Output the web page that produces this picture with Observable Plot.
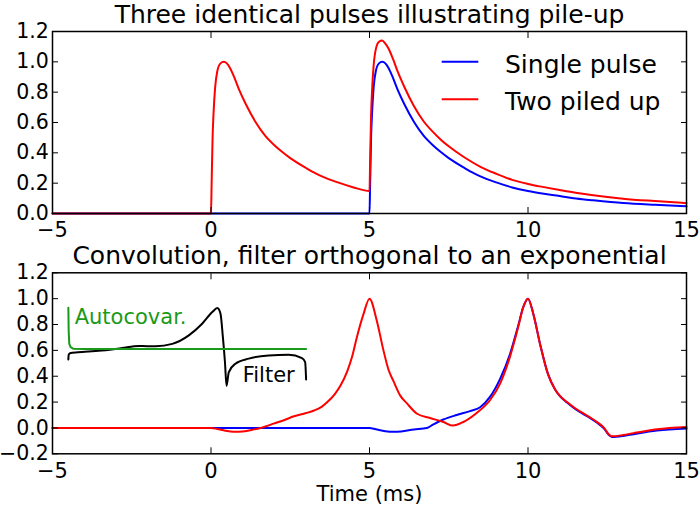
<!DOCTYPE html>
<html>
<head>
<meta charset="utf-8">
<script src="https://cdn.jsdelivr.net/npm/d3@7"></script>
<script src="https://cdn.jsdelivr.net/npm/@observablehq/plot@0.6"></script>
<style>
  body { margin: 0; background: #fff; }
  #wrap { position: relative; width: 700px; height: 505px; overflow: hidden; background: #fff; }
  #wrap svg { position: absolute; left: 0; overflow: visible; }
</style>
</head>
<body>
<div id="wrap"></div>
<script>
// ---------- data ----------
const titles = ["Three identical pulses illustrating pile-up", "Convolution, filter orthogonal to an exponential"];
const legendLabels = ["Single pulse", "Two piled up"];
const xLabel = "Time (ms)";
const insetLabels = ["Autocovar.", "Filter"];
const insetLabelX = [-4.3, 1.0];
const insetLabelY = [0.806, 0.355];

const xTicks = [-5, 0, 5, 10, 15];
const yTicksTop = [0, 0.2, 0.4, 0.6, 0.8, 1.0, 1.2];
const yTicksBot = [-0.2, 0, 0.2, 0.4, 0.6, 0.8, 1.0, 1.2];

// top panel: single pulse (blue)
const blueTopT = [-5, 5.0, 5.02, 5.05, 5.08, 5.13, 5.2, 5.3, 5.4, 5.5, 5.6, 5.75, 5.9, 6.1, 6.4, 6.7, 7.0, 7.25, 7.5, 8.0, 8.3, 8.5, 9.0, 9.5, 10.0, 10.5, 11.0, 11.44, 12.0, 13.0, 14.0, 15.0];
const blueTopV = [0, 0, 0.2, 0.5, 0.66, 0.83, 0.94, 0.99, 1.0, 0.99, 0.96, 0.89, 0.81, 0.72, 0.605, 0.515, 0.45, 0.405, 0.365, 0.30, 0.265, 0.245, 0.205, 0.172, 0.148, 0.13, 0.115, 0.10, 0.088, 0.069, 0.057, 0.047];

// top panel: two piled up (red)
const redTopT = [-5, 0, 0.02, 0.05, 0.08, 0.13, 0.2, 0.3, 0.4, 0.5, 0.6, 0.75, 0.9, 1.1, 1.4, 1.7, 2.0, 2.25, 2.5, 3.0, 3.3, 3.5, 4.0, 4.5, 5.0, 5.02, 5.05, 5.08, 5.13, 5.2, 5.3, 5.4, 5.5, 5.6, 5.75, 5.9, 6.1, 6.4, 6.7, 7.0, 7.25, 7.5, 8.0, 8.5, 9.0, 9.5, 10.0, 10.5, 11.0, 11.5, 12.0, 13.0, 14.0, 15.0];
const redTopV = [0, 0, 0.2, 0.5, 0.66, 0.83, 0.94, 0.99, 1.0, 0.99, 0.96, 0.89, 0.81, 0.72, 0.605, 0.515, 0.45, 0.405, 0.365, 0.30, 0.265, 0.245, 0.205, 0.172, 0.148, 0.348, 0.647, 0.806, 0.975, 1.084, 1.132, 1.14, 1.12, 1.088, 1.014, 0.93, 0.834, 0.709, 0.61, 0.538, 0.487, 0.443, 0.369, 0.308, 0.262, 0.222, 0.195, 0.174, 0.155, 0.137, 0.122, 0.098, 0.082, 0.068];

// bottom panel: convolution of single pulse (blue)
const blueBotT = [-5, 5.0, 5.2, 5.5, 5.76, 6.0, 6.4, 6.81, 7.0, 7.33, 7.75, 8.17, 8.49, 8.8, 9.12, 9.43, 9.69, 9.85, 10.0, 10.17, 10.38, 10.64, 10.85, 11.0, 11.23, 11.5, 11.76, 12.0, 12.18, 12.4, 12.55, 12.65, 13.0, 13.33, 14.07, 15.0];
const blueBotV = [0, 0, -0.01, -0.025, -0.03, -0.027, -0.012, 0.0, 0.025, 0.065, 0.10, 0.13, 0.16, 0.24, 0.38, 0.57, 0.79, 0.935, 1.0, 0.88, 0.65, 0.41, 0.30, 0.248, 0.197, 0.145, 0.105, 0.07, 0.04, -0.005, -0.055, -0.07, -0.062, -0.048, -0.02, -0.005];

// bottom panel: convolution of piled-up signal (red)
const redBotT = [-5, 0, 0.2, 0.45, 0.72, 1.0, 1.3, 1.57, 2.0, 2.3, 2.62, 3.0, 3.25, 3.5, 3.67, 3.9, 4.09, 4.3, 4.45, 4.6, 4.81, 5.0, 5.23, 5.44, 5.6, 5.76, 5.97, 6.18, 6.5, 6.91, 7.33, 7.63, 7.96, 8.38, 8.8, 9.12, 9.43, 9.69, 9.85, 10.0, 10.17, 10.38, 10.64, 10.85, 11.0, 11.23, 11.5, 11.76, 12.0, 12.18, 12.4, 12.55, 12.65, 13.0, 13.33, 14.07, 15.0];
const redBotV = [0, 0, -0.008, -0.022, -0.03, -0.027, -0.015, 0.0, 0.035, 0.06, 0.09, 0.115, 0.135, 0.165, 0.20, 0.26, 0.33, 0.44, 0.55, 0.70, 0.88, 1.0, 0.83, 0.60, 0.45, 0.36, 0.25, 0.19, 0.11, 0.077, 0.046, 0.018, 0.046, 0.116, 0.214, 0.343, 0.55, 0.78, 0.934, 1.0, 0.88, 0.65, 0.41, 0.30, 0.25, 0.20, 0.15, 0.11, 0.075, 0.045, 0.0, -0.05, -0.065, -0.055, -0.04, -0.01, 0.008];

// inset: autocovariance (green)
const autoT = [-4.5, -4.49, -4.47, -4.43, -4.35, -4.0, 3.0];
const autoV = [0.93, 0.75, 0.65, 0.625, 0.613, 0.61, 0.61];

// inset: filter (black)
const filterT = [-4.5, -4.49, -4.45, -4.2, -3.85, -3.32, -2.8, -2.27, -1.75, -1.22, -0.7, -0.28, 0.04, 0.2, 0.3, 0.37, 0.44, 0.49, 0.56, 0.77, 1.19, 1.82, 2.45, 2.87, 2.97, 3.0];
const filterV = [0.53, 0.565, 0.578, 0.585, 0.592, 0.60, 0.618, 0.633, 0.632, 0.65, 0.716, 0.806, 0.896, 0.927, 0.883, 0.716, 0.51, 0.325, 0.43, 0.497, 0.536, 0.561, 0.566, 0.54, 0.51, 0.375];

// ---------- helpers ----------
const rows = (T, V) => T.map((t, i) => ({t, v: V[i]}));
const fmtX = d3.format("d");
const fmtY = d3.format(".1f");
const FONT = "DejaVu Sans";
const W = 700;

function axes(yTicks) {
  return [
    Plot.axisX({ticks: xTicks, anchor: "bottom", tickSize: -6, tickPadding: 15, tickFormat: fmtX, label: null, fontSize: 21}),
    Plot.axisX({ticks: xTicks, anchor: "top", tickSize: -6, tickFormat: () => "", label: null}),
    Plot.axisY({ticks: yTicks, anchor: "left", tickSize: -6, tickPadding: 9.6, tickFormat: fmtY, label: null, fontSize: 20.5}),
    Plot.axisY({ticks: yTicks, anchor: "right", tickSize: -6, tickFormat: () => "", label: null}),
    Plot.frame({stroke: "black", strokeWidth: 1.5})
  ];
}

const lineOpts = (color) => ({x: "t", y: "v", stroke: color, strokeWidth: 2, curve: "monotone-x"});

// ---------- top panel ----------
const topPlot = Plot.plot({
  width: W, height: 245,
  marginLeft: 52, marginRight: 14, marginTop: 31, marginBottom: 32,
  style: {fontFamily: FONT, fontSize: "21px", color: "black", background: "transparent", overflow: "visible"},
  x: {domain: [-5, 15]},
  y: {domain: [0, 1.2]},
  marks: [
    Plot.line(rows(blueTopT, blueTopV), lineOpts("#0000ff")),
    Plot.line(rows(redTopT, redTopV), lineOpts("#ff0000")),
    ...axes(yTicksTop),
    Plot.text([titles[0]], {text: d => d, frameAnchor: "top", dy: -8.3, lineAnchor: "bottom", fontSize: 25, fill: "black"})
  ]
});
topPlot.style.top = "0px";

// ---------- bottom panel ----------
const botPlot = Plot.plot({
  width: W, height: 260,
  marginLeft: 52, marginRight: 14, marginTop: 27.3, marginBottom: 51.7,
  style: {fontFamily: FONT, fontSize: "21px", color: "black", background: "transparent", overflow: "visible"},
  x: {domain: [-5, 15]},
  y: {domain: [-0.2, 1.2]},
  marks: [
    Plot.line(rows(filterT, filterV), lineOpts("black")),
    Plot.line(rows(autoT, autoV), {x: "t", y: "v", stroke: "#1a9a1a", strokeWidth: 2, curve: "linear"}),
    Plot.line(rows(blueBotT, blueBotV), lineOpts("#0000ff")),
    Plot.line(rows(redBotT, redBotV), lineOpts("#ff0000")),
    Plot.text([0], {x: () => insetLabelX[0], y: () => insetLabelY[0], text: () => insetLabels[0], textAnchor: "start", lineAnchor: "bottom", fontSize: 21, fill: "#1a9a1a"}),
    Plot.text([0], {x: () => insetLabelX[1], y: () => insetLabelY[1], text: () => insetLabels[1], textAnchor: "start", lineAnchor: "bottom", fontSize: 21, fill: "black"}),
    ...axes(yTicksBot),
    Plot.text([titles[1]], {text: d => d, frameAnchor: "top", dy: -9.3, lineAnchor: "bottom", fontSize: 25, fill: "black"}),
    Plot.text([xLabel], {text: d => d, frameAnchor: "bottom", dy: 47.5, lineAnchor: "bottom", fontSize: 21, fill: "black"})
  ]
});
botPlot.style.top = "245px";

const wrap = document.getElementById("wrap");
wrap.appendChild(topPlot);
wrap.appendChild(botPlot);

// ---------- legend (top panel, upper right) ----------
const legendColors = ["#0000ff", "#ff0000"];
const legendY = [61.7, 99.3];
const g = d3.select(topPlot).append("g").attr("font-family", FONT).attr("text-anchor", "start");
legendLabels.forEach((lab, i) => {
  g.append("line").attr("x1", 441.7).attr("x2", 478.3).attr("y1", legendY[i]).attr("y2", legendY[i])
    .attr("stroke", legendColors[i]).attr("stroke-width", 2);
  g.append("text").attr("x", 505).attr("y", legendY[i] + 10.8).attr("font-size", 25)
    .attr("text-anchor", "start").attr("fill", "black").text(lab);
});
</script>
</body>
</html>
